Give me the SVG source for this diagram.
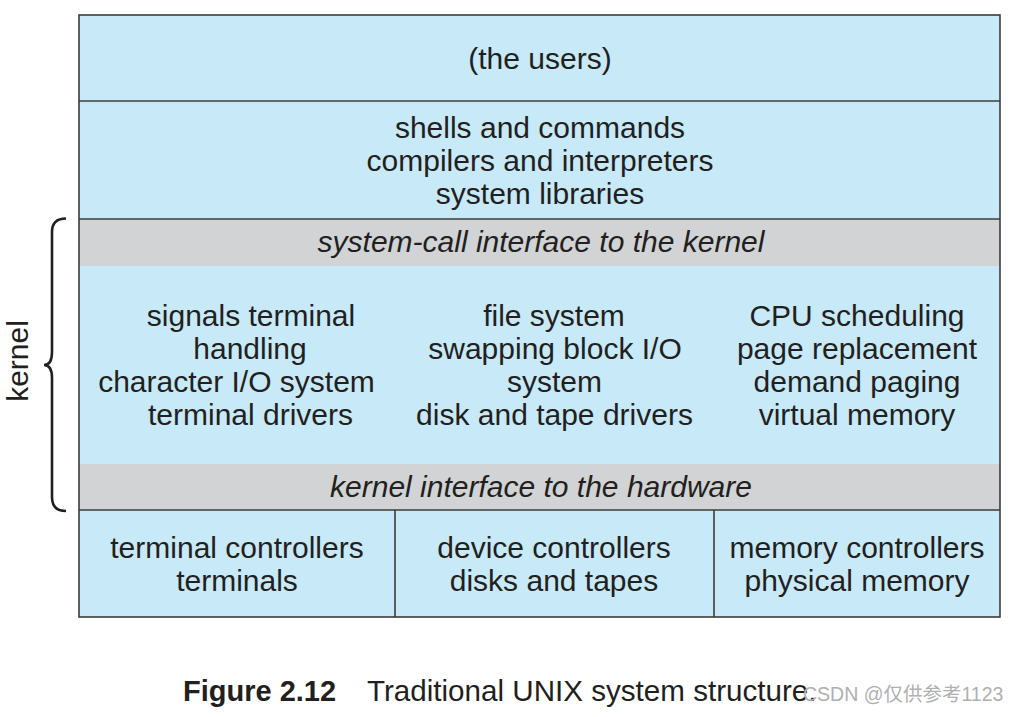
<svg xmlns="http://www.w3.org/2000/svg" width="1014" height="717" viewBox="0 0 1014 717">
<style>
.blue{fill:#c7e9f8}
.gray{fill:#d1d3d4}
.t{font-family:"Liberation Sans",Arial,Helvetica,sans-serif;font-size:30px;fill:#231f20;text-anchor:middle}
.i{font-style:italic}
.ln{stroke:#3c3c3c;stroke-width:1.6;fill:none}
.cap{font-family:"Liberation Sans",Arial,Helvetica,sans-serif;font-size:29.6px;fill:#231f20}
</style>
<rect width="1014" height="717" fill="#ffffff"/>
<g id="users">
<rect class="blue" x="79" y="15" width="921" height="86"/>
<text class="t" x="540" y="69">(the users)</text>
</g>
<g id="userland">
<rect class="blue" x="79" y="101" width="921" height="118"/>
<text class="t" x="540" y="138">shells and commands</text>
<text class="t" x="540" y="171">compilers and interpreters</text>
<text class="t" x="540" y="204">system libraries</text>
</g>
<g id="syscall">
<rect class="gray" x="79" y="219" width="921" height="47"/>
<text class="t i" x="541" y="252">system-call interface to the kernel</text>
</g>
<g id="kernel-core">
<rect class="blue" x="79" y="266" width="921" height="198"/>
<text class="t" x="251" y="326">signals terminal</text>
<text class="t" x="250" y="359">handling</text>
<text class="t" x="236.5" y="392">character I/O system</text>
<text class="t" x="250.5" y="425">terminal drivers</text>
<text class="t" x="554" y="326">file system</text>
<text class="t" x="555" y="359">swapping block I/O</text>
<text class="t" x="554.5" y="392">system</text>
<text class="t" x="554.5" y="425">disk and tape drivers</text>
<text class="t" x="857" y="326">CPU scheduling</text>
<text class="t" x="857" y="359">page replacement</text>
<text class="t" x="857" y="392">demand paging</text>
<text class="t" x="857" y="425">virtual memory</text>
</g>
<g id="hwiface">
<rect class="gray" x="79" y="464" width="921" height="46"/>
<text class="t i" x="541" y="497">kernel interface to the hardware</text>
</g>
<g id="terminal-hw">
<rect class="blue" x="79" y="510" width="316" height="107"/>
<text class="t" x="237" y="558">terminal controllers</text>
<text class="t" x="237" y="591">terminals</text>
</g>
<g id="device-hw">
<rect class="blue" x="395" y="510" width="319" height="107"/>
<text class="t" x="554" y="558">device controllers</text>
<text class="t" x="554" y="591">disks and tapes</text>
</g>
<g id="memory-hw">
<rect class="blue" x="714" y="510" width="286" height="107"/>
<text class="t" x="857" y="558">memory controllers</text>
<text class="t" x="857" y="591">physical memory</text>
</g>
<g id="connectors">
<rect class="ln" x="79" y="15" width="921" height="602"/>
<line class="ln" x1="79" y1="101" x2="1000" y2="101"/>
<line class="ln" x1="79" y1="219" x2="1000" y2="219"/>
<line class="ln" x1="79" y1="510" x2="1000" y2="510"/>
<line class="ln" x1="395" y1="510" x2="395" y2="617"/>
<line class="ln" x1="714" y1="510" x2="714" y2="617"/>
</g>
<g id="kernel-brace">
<path d="M66,218.5 Q52,218.5 52,232 L52,352 Q52,365 44,365 Q52,365 52,378 L52,497 Q52,511 66,511" fill="none" stroke="#231f20" stroke-width="2.6"/>
<text class="t" transform="translate(28,361) rotate(-90)" x="0" y="0" font-size="29">kernel</text>
</g>
<g id="caption">
<text class="cap" x="183" y="701"><tspan font-weight="bold" font-size="29">Figure 2.12</tspan><tspan x="367">Traditional UNIX system structure.</tspan></text>
<text x="803" y="701" font-family="'Liberation Sans','Noto Sans CJK SC',sans-serif" font-size="19.5" fill="#b0b0b0">CSDN @仅供参考1123</text>
</g>
</svg>
